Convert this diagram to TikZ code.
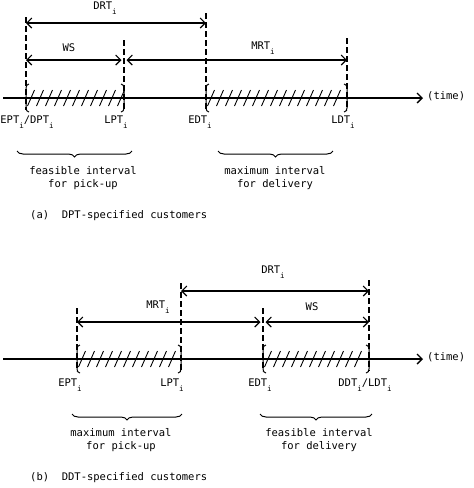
\documentclass[tikz,border=0pt]{standalone}
\usepackage{fontspec}
\setmainfont{DejaVu Sans Mono}
\usetikzlibrary{arrows.meta,decorations.pathreplacing}
\newcommand\sbi{\raisebox{-4.5pt}{\fontsize{7.5}{8}\selectfont i}}
\tikzset{
  lbl/.style={font=\fontsize{10.5}{12.5}\selectfont, inner sep=0pt},
  tick/.style={line width=1.1pt, dash pattern=on 6pt off 3pt},
  span/.style={line width=1.1pt, {Straight Barb[length=5pt,width=10pt]}-{Straight Barb[length=5pt,width=10pt]}},
  axis/.style={line width=1.4pt, -{Straight Barb[length=5pt,width=10pt]}},
  hatchline/.style={line width=0.9pt},
  bracketline/.style={line width=1pt},
  bracebelow/.style={line width=1pt, decorate, decoration={brace, mirror, amplitude=6pt}},
}
\newcommand\hatch[3]{% from x #1 to x #2 at axis y #3
  \pgfmathsetmacro\hs{#1+5}\pgfmathsetmacro\hn{#1+14}\pgfmathsetmacro\he{#2-3}
  \foreach \hx in {\hs,\hn,...,\he}{\draw[hatchline] (\hx-3.5,#3+8) -- (\hx+3.5,#3-8);}
  \draw[bracketline] (#1+3,#3-14) to[out=180,in=90] (#1,#3-10) -- (#1,#3+10) to[out=-90,in=180] (#1+3,#3+14);
  \draw[bracketline] (#2-3,#3-14) to[out=0,in=90] (#2,#3-10) -- (#2,#3+10) to[out=-90,in=0] (#2-3,#3+14);
}
\begin{document}
\begin{tikzpicture}[x=1pt,y=-1pt]
\useasboundingbox (0,0) rectangle (474,488);
% ---------------- (a) ----------------
\coordinate (a0) at (3,98);
\coordinate (aE) at (423,98);
\coordinate (aA1) at (26,17);  \coordinate (aA2) at (26,110);
\coordinate (aB1) at (124,40); \coordinate (aB2) at (124,110);
\coordinate (aC1) at (206,13); \coordinate (aC2) at (206,110);
\coordinate (aD1) at (347,38); \coordinate (aD2) at (347,110);
\draw[tick] (aA1) -- (aA2);
\draw[tick] (aB1) -- (aB2);
\draw[tick] (aC1) -- (aC2);
\draw[tick] (aD1) -- (aD2);
\hatch{26}{124}{98}
\hatch{206}{347}{98}
\draw[axis] (a0) -- (aE);
\node[lbl, anchor=west] (atime) at (427,96) {(time)};
\coordinate (aDRTl) at (26,23); \coordinate (aDRTr) at (206,23);
\coordinate (aWSl) at (26,60); \coordinate (aWSr) at (124,60);
\coordinate (aMRTl) at (124,60); \coordinate (aMRTr) at (347,60);
\draw[span] (aDRTl) -- (aDRTr);
\draw[span, shorten >=2.5pt] (aWSl) -- (aWSr);
\draw[span, shorten <=2.5pt] (aMRTl) -- (aMRTr);
\node[lbl] (aDRT) at (105,8) {DRT\sbi};
\node[lbl] (aWS) at (69,48) {WS};
\node[lbl] (aMRT) at (263,48) {MRT\sbi};
\node[lbl] (aEPT) at (27,122) {EPT\sbi/DPT\sbi};
\node[lbl] (aLPT) at (116,122) {LPT\sbi};
\node[lbl] (aEDT) at (200,122) {EDT\sbi};
\node[lbl] (aLDT) at (343,122) {LDT\sbi};
\draw[bracebelow] (17,151) -- (132,151);
\draw[bracebelow] (218,151) -- (333,151);
\node[lbl, align=center] (aF) at (83,178) {feasible interval\\for pick-up};
\node[lbl, align=center] (aM) at (275,178) {maximum interval\\for delivery};
\node[lbl, anchor=west] (acap) at (30,216) {(a)\ \ DPT-specified customers};
% ---------------- (b) ----------------
\coordinate (b0) at (3,359);
\coordinate (bE) at (423,359);
\coordinate (bA1) at (77,308);  \coordinate (bA2) at (77,371);
\coordinate (bB1) at (181,283); \coordinate (bB2) at (181,371);
\coordinate (bC1) at (263,308); \coordinate (bC2) at (263,371);
\coordinate (bD1) at (369,280); \coordinate (bD2) at (369,371);
\draw[tick] (bA1) -- (bA2);
\draw[tick] (bB1) -- (bB2);
\draw[tick] (bC1) -- (bC2);
\draw[tick] (bD1) -- (bD2);
\hatch{77}{181}{359}
\hatch{263}{369}{359}
\draw[axis] (b0) -- (bE);
\node[lbl, anchor=west] (btime) at (427,357) {(time)};
\coordinate (bDRTl) at (181,291); \coordinate (bDRTr) at (369,291);
\coordinate (bMRTl) at (77,322); \coordinate (bMRTr) at (263,322);
\coordinate (bWSl) at (263,322); \coordinate (bWSr) at (369,322);
\draw[span] (bDRTl) -- (bDRTr);
\draw[span, shorten >=2.5pt] (bMRTl) -- (bMRTr);
\draw[span, shorten <=2.5pt] (bWSl) -- (bWSr);
\node[lbl] (bDRT) at (273,272) {DRT\sbi};
\node[lbl] (bMRT) at (158,307) {MRT\sbi};
\node[lbl] (bWS) at (312,307) {WS};
\node[lbl] (bEPT) at (70,385) {EPT\sbi};
\node[lbl] (bLPT) at (172,385) {LPT\sbi};
\node[lbl] (bEDT) at (260,385) {EDT\sbi};
\node[lbl] (bDDT) at (365,385) {DDT\sbi/LDT\sbi};
\draw[bracebelow] (72,414) -- (182,414);
\draw[bracebelow] (260,414) -- (372,414);
\node[lbl, align=center] (bM) at (121,440) {maximum interval\\for pick-up};
\node[lbl, align=center] (bF) at (319,440) {feasible interval\\for delivery};
\node[lbl, anchor=west] (bcap) at (30,478) {(b)\ \ DDT-specified customers};
\end{tikzpicture}
\end{document}
